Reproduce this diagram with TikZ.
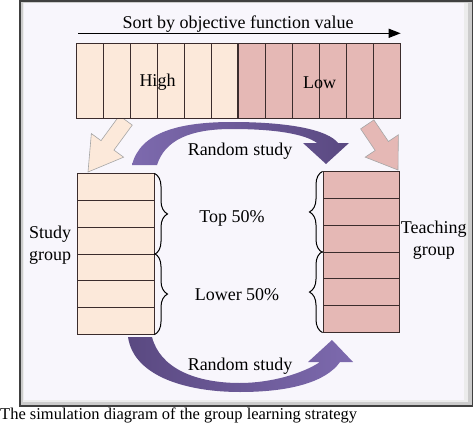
\documentclass[tikz,border=0pt]{standalone}
\usepackage{fontspec}
\setmainfont{Liberation Serif}
\usetikzlibrary{positioning,arrows.meta,decorations.pathreplacing}
\definecolor{peach}{HTML}{FCE9DA}
\definecolor{rose}{HTML}{E5B8B5}
\definecolor{purplelt}{HTML}{7D6AAE}
\definecolor{purpledk}{HTML}{5A4981}
\definecolor{panel}{HTML}{F8F6FC}
\definecolor{edge}{HTML}{3B2C2C}

\begin{document}
\begin{tikzpicture}[x=1pt,y=-1pt,
			txt/.style={font=\fontsize{18}{22}\selectfont,inner sep=1pt,align=center},
			barcell/.style={draw=edge,line width=1pt,rectangle,minimum width=27pt,minimum height=75pt,inner sep=0pt},
			rowcell/.style={draw=edge,line width=1pt,rectangle,minimum width=76pt,minimum height=26.7pt,inner sep=0pt},
			blockarrow/.style={draw=gray!70,line width=0.6pt},
			grpbrace/.style={draw=black,line width=1pt,decorate,decoration={brace,amplitude=13pt}}]
			\useasboundingbox (0,0) rectangle (474,423);
			% frame
			\fill [black!75] (19,0) rectangle (473,407);
			\fill [gray!40] (21,1.5) rectangle (471.5,405);
			\fill [gray!15] (22.5,2.5) rectangle (468,402);
			\fill [panel] (24,3) rectangle (464,400);

			% curved study arrows
			\shade [left color=purplelt,right color=purpledk] (132,165) .. controls (140,132) and (180,122) .. (232,122)
				.. controls (290,122) and (328,130) .. (338,143) -- (349,143) -- (326,164) -- (303,143) -- (317,143)
				.. controls (305,134) and (275,129) .. (232,129) .. controls (190,129) and (165,140) .. (157,165) -- cycle;
			\shade [left color=purpledk,right color=purplelt] (128,337) .. controls (134,378) and (190,392) .. (240,392)
				.. controls (290,392) and (326,382) .. (340,362) -- (353,362) -- (332,340) -- (308,362) -- (320,362)
				.. controls (302,374) and (270,383) .. (240,383) .. controls (195,383) and (160,368) .. (152,337) -- cycle;

			% split arrows
			\draw [blockarrow,fill=peach,shift={(88,172)},rotate=233.8] (0,0) -- (-33,20) -- (-33,8) -- (-64,8) -- (-64,-8) -- (-33,-8) -- (-33,-20) -- cycle;
			\draw [blockarrow,fill=rose,shift={(398,170)},rotate=-56] (0,0) -- (-29,20) -- (-29,8) -- (-55,8) -- (-55,-8) -- (-29,-8) -- (-29,-20) -- cycle;

			\matrix (sortbar) [inner sep=0pt,column sep=-1pt] at (238,80.5) {
				\node (h1) [barcell,fill=peach] {}; &
				\node (h2) [barcell,fill=peach] {}; &
				\node (h3) [barcell,fill=peach] {}; &
				\node (h4) [barcell,fill=peach] {}; &
				\node (h5) [barcell,fill=peach] {}; &
				\node (h6) [barcell,fill=peach] {}; &
				\node (l1) [barcell,fill=rose] {}; &
				\node (l2) [barcell,fill=rose] {}; &
				\node (l3) [barcell,fill=rose] {}; &
				\node (l4) [barcell,fill=rose] {}; &
				\node (l5) [barcell,fill=rose] {}; &
				\node (l6) [barcell,fill=rose] {}; \\
			};
			\matrix (studycol) [inner sep=0pt,row sep=-1pt] at (116,254) {
				\node (s1) [rowcell,fill=peach] {}; \\
				\node (s2) [rowcell,fill=peach] {}; \\
				\node (s3) [rowcell,fill=peach] {}; \\
				\node (s4) [rowcell,fill=peach] {}; \\
				\node (s5) [rowcell,fill=peach] {}; \\
				\node (s6) [rowcell,fill=peach] {}; \\
			};
			\matrix (teachcol) [inner sep=0pt,row sep=-1pt] at (361,252) {
				\node (t1) [rowcell,fill=rose] {}; \\
				\node (t2) [rowcell,fill=rose] {}; \\
				\node (t3) [rowcell,fill=rose] {}; \\
				\node (t4) [rowcell,fill=rose] {}; \\
				\node (t5) [rowcell,fill=rose] {}; \\
				\node (t6) [rowcell,fill=rose] {}; \\
			};

			% braces
			\draw [grpbrace] (s1.north east) -- (s3.south east);
			\draw [grpbrace] (s4.north east) -- (s6.south east);
			\draw [grpbrace] (t3.south west) -- (t1.north west);
			\draw [grpbrace] (t6.south west) -- (t4.north west);

			\draw [-{Triangle[length=12pt,width=9pt]},line width=1.2pt] ([xshift=3pt,yshift=9pt]sortbar.north west) -- ([yshift=9pt]sortbar.north east);
			\node (sortlbl) [txt,above=9pt of sortbar] {Sort by objective function value};
			\node (high) [txt,yshift=-2pt] at (h3.east) {High};
			\node (low) [txt,yshift=-2pt] at (l3.east) {Low};
			\node (rndtop) [txt] at (240,151) {Random study};
			\node (rndbot) [txt] at (240,366) {Random study};
			\node (toplbl) [txt] at (232,218) {Top 50\%};
			\node (lowlbl) [txt] at (237,295) {Lower 50\%};
			\node (studylbl) [txt,left=5pt of studycol,yshift=9pt] {Study\\group};
			\node (teachlbl) [txt,right=0pt of teachcol,yshift=12pt] {Teaching\\group};
			\node (caption) [anchor=base west,inner sep=0pt,font=\fontsize{16.5}{20}\selectfont] at (0,419) {The simulation diagram of the group learning strategy};
		\end{tikzpicture}
\end{document}
